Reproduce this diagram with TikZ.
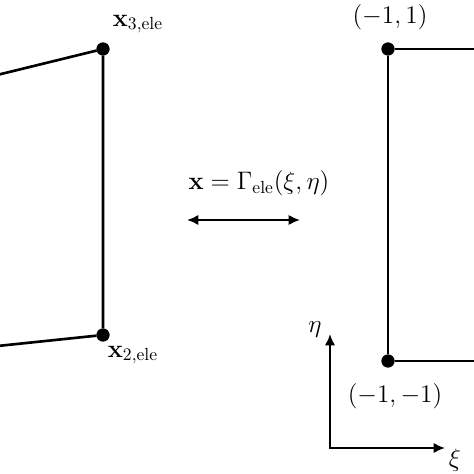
\documentclass[tikz,border=0pt]{standalone}
\usetikzlibrary{arrows.meta,positioning}

\begin{document}
\begin{tikzpicture}[
    x=0.02cm, y=0.02cm,
    dot/.style={circle, fill=black, draw=black, inner sep=0pt, minimum size=0.25cm},
    edge/.style={line width=1.5pt},
    tip/.style={{Latex[length=6.5pt,width=6pt]}-{Latex[length=6.5pt,width=6pt]}},
    tag/.style={font=\Large},
]
\useasboundingbox (0,0) rectangle (474,474);
\clip (0,0) rectangle (474,474);

% physical element (left)
\node[dot] (x3) at (103,425) {};
\node[dot] (x2) at (103,139) {};
\coordinate (x4) at (-60,385);
\coordinate (x1) at (-60,122);
\draw[edge] (x4) -- (x3) -- (x2) -- (x1);
\node[tag] (x3lab) at (138,450) {$\mathbf{x}_{3,\mathrm{ele}}$};
\node[tag] (x2lab) at (133,119) {$\mathbf{x}_{2,\mathrm{ele}}$};

% mapping
\node[tag] (map) at (259,291) {$\mathbf{x}=\Gamma_{\mathrm{ele}}(\xi,\eta)$};
\coordinate (mapL) at (187,254);
\coordinate (mapR) at (300,254);
\draw[edge, tip] (mapL) -- (mapR);

% reference element (right)
\node[dot] (p4) at (388,425) {};
\node[dot] (p1) at (388,113) {};
\coordinate (p3) at (700,425);
\coordinate (p2) at (700,113);
\draw[edge] (p3) -- (p4) -- (p1) -- (p2);
\node[tag] (p4lab) at (390,457) {$(-1,1)$};
\node[tag] (p1lab) at (395,78) {$(-1,-1)$};

% local axes
\coordinate (o) at (330,26);
\coordinate (etatip) at (330,140);
\coordinate (xitip) at (445,26);
\draw[edge, tip] (etatip) -- (o) -- (xitip);
\node[tag] (etalab) at (315,144) {$\eta$};
\node[tag] (xilab) at (455,14) {$\xi$};

\end{tikzpicture}
\end{document}
